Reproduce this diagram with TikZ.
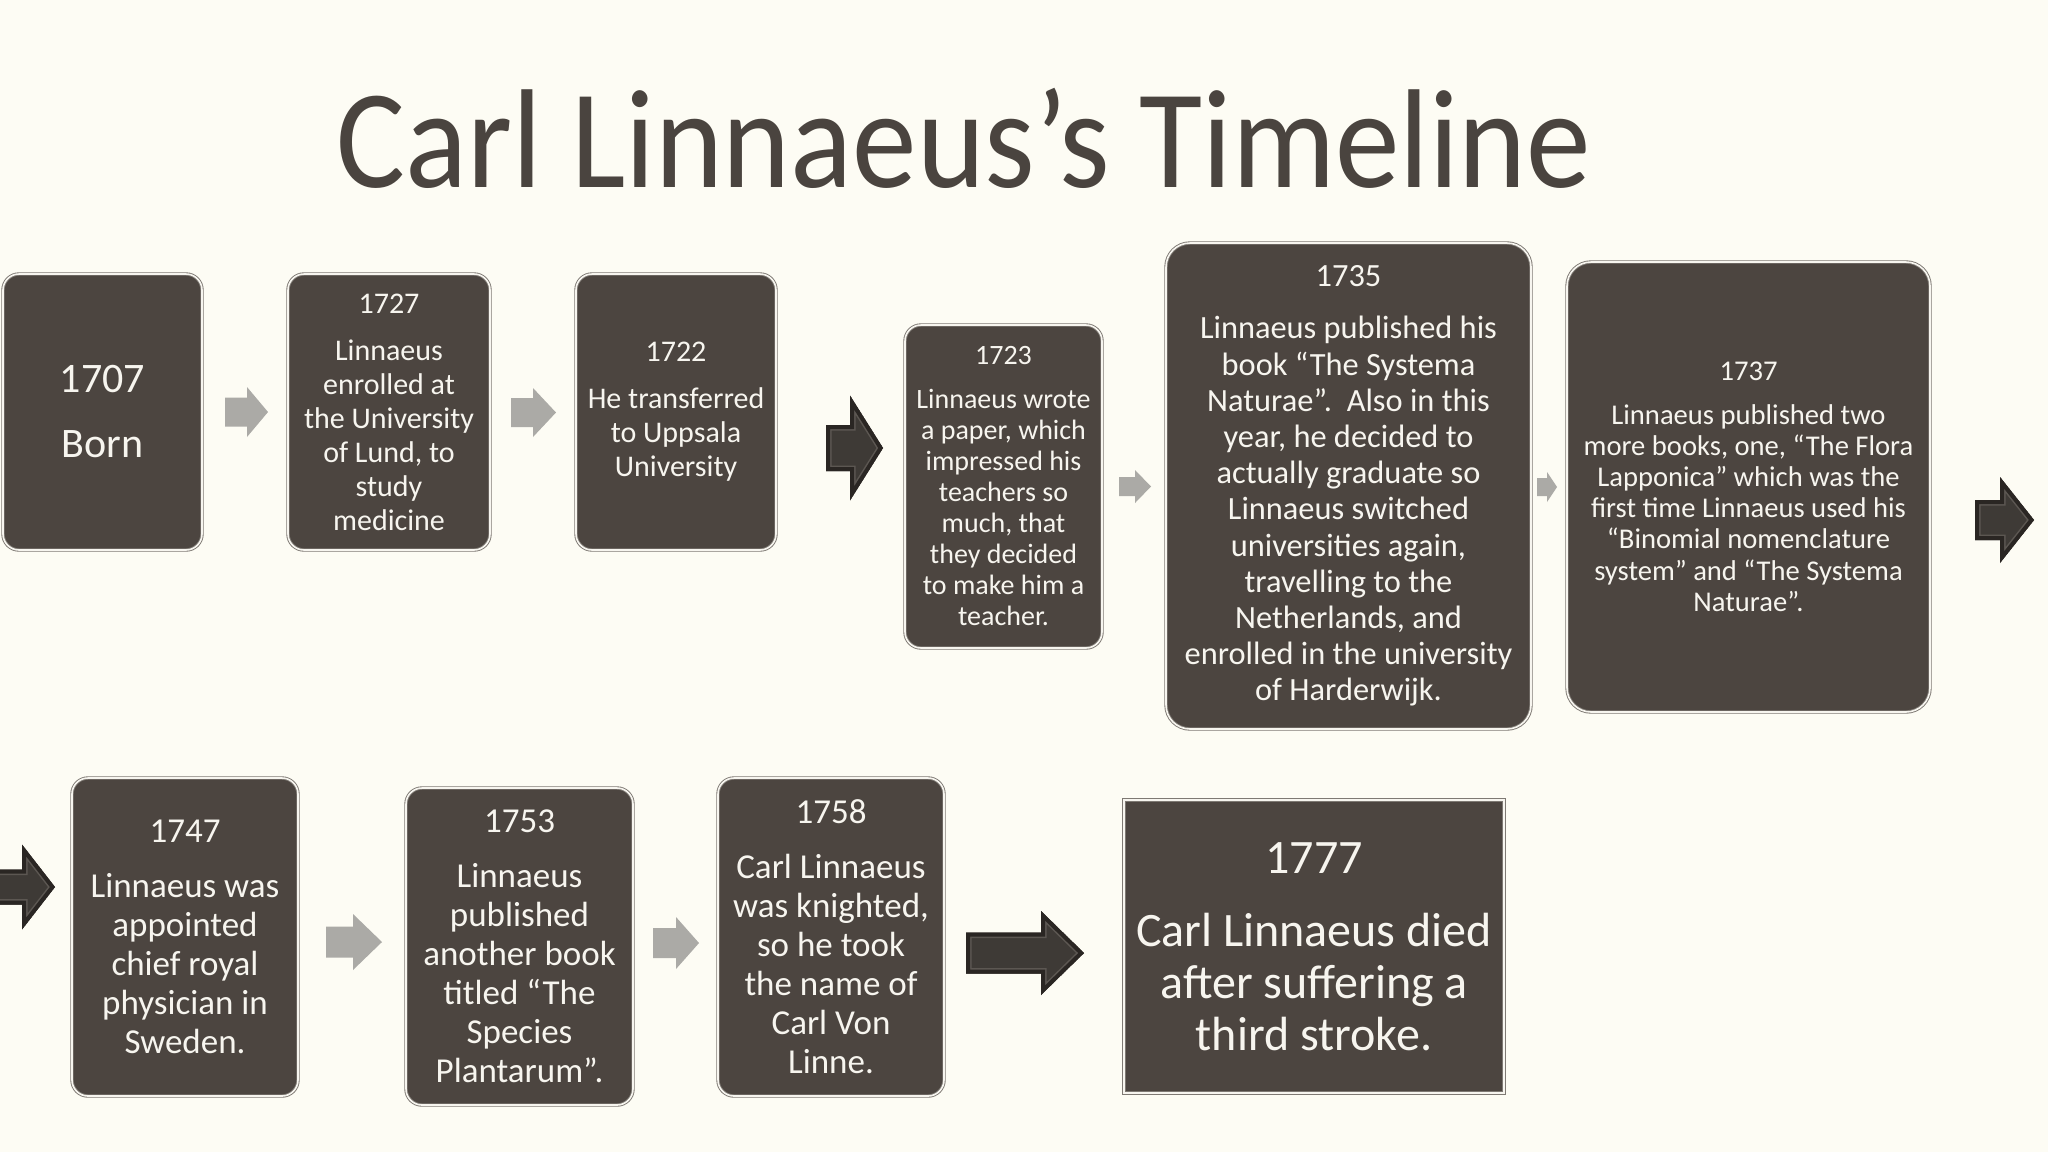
\documentclass[tikz,border=0pt]{standalone}
\usepackage{fontspec}
\usepackage{graphicx}
\setmainfont{Carlito}
\usetikzlibrary{positioning}
\definecolor{bgcol}{HTML}{FDFCF4}
\definecolor{boxfill}{HTML}{4C4540}
\definecolor{boxedge}{HTML}{7E7973}
\definecolor{boxtext}{HTML}{F7F5EF}
\definecolor{lightarrow}{HTML}{ABAAA6}
\definecolor{darkarrow}{HTML}{3E3A36}
\definecolor{darkedge}{HTML}{2A2623}
\definecolor{darkband}{HTML}{5C5752}
\definecolor{titlecol}{HTML}{4A443F}
\newcommand{\blockarrow}[6]{%
\fill[lightarrow] (#1,#2-#5) -- (#3,#2-#5) -- (#3,#2-#6) -- (#4,#2) -- (#3,#2+#6) -- (#3,#2+#5) -- (#1,#2+#5) -- cycle;}
\newcommand{\darkblockarrow}[6]{%
\def\arrowpath{(#1,#2-#5) -- (#3,#2-#5) -- (#3,#2-#6) -- (#4,#2) -- (#3,#2+#6) -- (#3,#2+#5) -- (#1,#2+#5) -- cycle}
\begin{scope}
\clip \arrowpath;
\fill[darkarrow] \arrowpath;
\draw[darkband, line width=5.5pt, line join=miter] \arrowpath;
\draw[darkedge, line width=4pt, line join=miter] \arrowpath;
\end{scope}}

\begin{document}
\begin{tikzpicture}[x=0.5pt, y=-0.5pt]
\tikzstyle{EventBox}=[rectangle, rounded corners=8pt, fill=boxfill, draw=boxedge,
line width=0.45pt, double=boxtext, double distance=0.8pt, text=boxtext, align=center,
inner sep=0pt]
\useasboundingbox (0,0) rectangle (2048,1152);
\fill[bgcol] (0,0) rectangle (2048,1152);
\node[text=titlecol, font=\fontsize{64.6}{70}\selectfont] (title) at (964,138) {\scalebox{1}[1.09]{Carl Linnaeus’s Timeline}};
\node[EventBox, minimum width=99.5pt, minimum height=138pt, font=\fontsize{21}{24}\selectfont]
 (b1707) at (102.5,412) {1707\\[8.5pt] Born};
\node[EventBox, minimum width=101pt, minimum height=138pt, font=\fontsize{15}{17}\selectfont]
 (b1727) at (389,412) {1727\\[6.5pt] Linnaeus\\ enrolled at\\ the University\\ of Lund, to\\ study\\ medicine};
\node[EventBox, minimum width=100pt, minimum height=138pt, font=\fontsize{15}{17}\selectfont]
 (b1722) at (676,412) {1722\\[6.5pt] He transferred\\ to Uppsala\\ University};
\node[EventBox, minimum width=98.5pt, minimum height=161.5pt, font=\fontsize{14}{15.5}\selectfont]
 (b1723) at (1003.5,486.5) {1723\\[6.5pt] Linnaeus wrote\\ a paper, which\\ impressed his\\ teachers so\\ much, that\\ they decided\\ to make him a\\ teacher.};
\node[EventBox, rounded corners=12pt, minimum width=182.5pt, minimum height=243pt, font=\fontsize{16.2}{18.1}\selectfont]
 (b1735) at (1348.5,486) {1735\\[8pt] Linnaeus published his\\ book “The Systema\\ Naturae”.\ \ Also in this\\ year, he decided to\\ actually graduate so\\ Linnaeus switched\\ universities again,\\ travelling to the\\ Netherlands, and\\ enrolled in the university\\ of Harderwijk.};
\node[EventBox, rounded corners=12pt, minimum width=181.5pt, minimum height=225pt, font=\fontsize{14.3}{15.6}\selectfont]
 (b1737) at (1748.5,487) {1737\\[6pt] Linnaeus published two\\ more books, one, “The Flora\\ Lapponica” which was the\\ first time Linnaeus used his\\ “Binomial nomenclature\\ system” and “The Systema\\ Naturae”.};
\node[EventBox, minimum width=113pt, minimum height=159pt, font=\fontsize{17.5}{19.5}\selectfont]
 (b1747) at (185,937) {1747\\[8pt] Linnaeus was\\ appointed\\ chief royal\\ physician in\\ Sweden.};
\node[EventBox, minimum width=113.5pt, minimum height=158.5pt, font=\fontsize{17.5}{19.5}\selectfont]
 (b1753) at (519.5,946.5) {1753\\[8pt] Linnaeus\\ published\\ another book\\ titled “The\\ Species\\ Plantarum”.};
\node[EventBox, minimum width=113pt, minimum height=159pt, font=\fontsize{17.5}{19.5}\selectfont]
 (b1758) at (831,937) {1758\\[8pt] Carl Linnaeus\\ was knighted,\\ so he took\\ the name of\\ Carl Von\\ Linne.};
\node[EventBox, rounded corners=0pt, minimum width=190pt, minimum height=146.5pt, font=\fontsize{24}{26}\selectfont]
 (b1777) at (1314,946.5) {1777\\[10.5pt] Carl Linnaeus died\\ after suffering a\\ third stroke.};
\blockarrow{225}{412}{247}{268}{14.5}{25}
\blockarrow{511}{412.5}{533}{556}{14.5}{24.5}
\darkblockarrow{826}{448}{850}{883}{23}{52.5}
\blockarrow{1119}{486.5}{1135}{1151}{9.5}{16.5}
\blockarrow{1537}{487}{1547}{1557}{9}{15}
\darkblockarrow{1975}{520}{2000}{2034}{20}{43}
\darkblockarrow{-10}{887}{22}{55}{17.5}{42.5}
\blockarrow{326}{942}{353}{382}{15.5}{28}
\blockarrow{653}{943}{676}{699}{15}{26}
\darkblockarrow{966}{953}{1041}{1084}{20.5}{42}
\end{tikzpicture}
\end{document}
